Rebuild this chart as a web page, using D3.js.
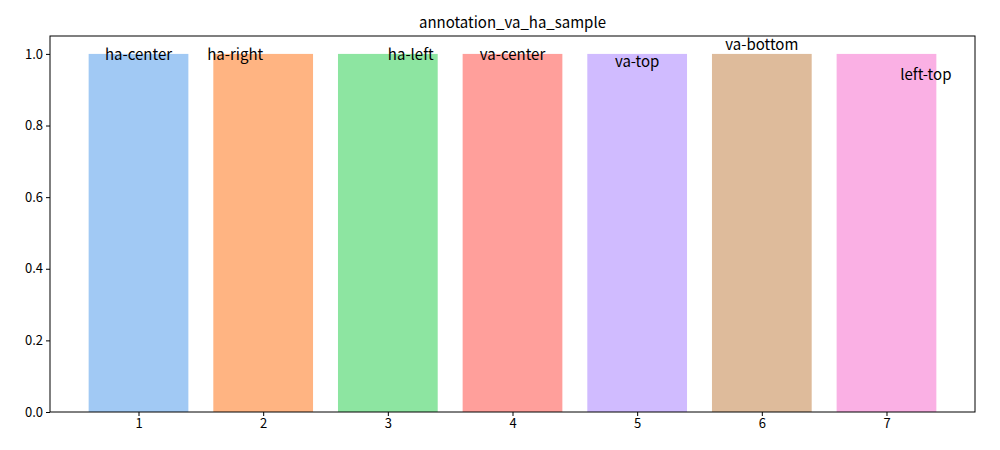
<!DOCTYPE html><html><head><meta charset="utf-8">
<script src="https://cdn.jsdelivr.net/npm/d3@7"></script>
<style>body{margin:0;background:#fff}text{font-family:"Noto Sans CJK JP","Noto Sans",sans-serif}</style></head><body>
<svg id="c" width="1000" height="450"></svg>
<script>
const categories=[1,2,3,4,5,6,7];
const values=[1,1,1,1,1,1,1];
const colors=["#a1c9f4","#ffb482","#8de5a1","#ff9f9b","#d0bbff","#debb9b","#fab0e4"];
const labels=["ha-center","ha-right","ha-left","va-center","va-top","va-bottom","left-top"];
const anchors=["middle","end","start","middle","middle","middle","start"];
const baselines=["central","central","central","central","hanging","text-after-edge","hanging"];
const yTicks=[0,0.2,0.4,0.6,0.8,1.0];
const svg=d3.select("#c");
const L=50,R=975,T=36,B=412;
const x=d3.scaleLinear().domain([0.29,7.71]).range([L,R]);
const y=d3.scaleLinear().domain([0,1.05]).range([B,T]);
svg.selectAll("rect.b").data(categories).enter().append("rect")
 .attr("x",d=>x(d-0.4)).attr("width",x(0.8)-x(0)).attr("y",(d,i)=>y(values[i])).attr("height",(d,i)=>B-y(values[i])).attr("fill",(d,i)=>colors[i]);
const ax=svg.append("g").attr("transform",`translate(0,${B})`).call(d3.axisBottom(x).tickValues(categories).tickFormat(d3.format("d")).tickSize(4));
const ay=svg.append("g").attr("transform",`translate(${L},0)`).call(d3.axisLeft(y).tickValues(yTicks).tickFormat(d3.format(".1f")).tickSize(4));
[ax,ay].forEach(a=>{a.select(".domain").remove();a.selectAll("text").attr("font-size",13).attr("fill","#000").style("font-family",'"Noto Sans CJK JP",sans-serif');});
svg.append("rect").attr("x",L).attr("y",T).attr("width",R-L).attr("height",B-T).attr("fill","none").attr("stroke","#000").attr("stroke-width",1);
svg.append("text").attr("x",(L+R)/2).attr("y",21).attr("text-anchor","middle").attr("dominant-baseline","central").attr("font-size",15).text("annotation_va_ha_sample");
svg.selectAll("text.a").data(categories).enter().append("text")
 .attr("x",(d,i)=>i==6?x(d+0.11):x(d)).attr("y",(d,i)=>i==6?y(values[i])+13:y(values[i]))
 .attr("text-anchor",(d,i)=>anchors[i]).attr("dominant-baseline",(d,i)=>baselines[i])
 .attr("font-size",15).text((d,i)=>labels[i]);
</script></body></html>
